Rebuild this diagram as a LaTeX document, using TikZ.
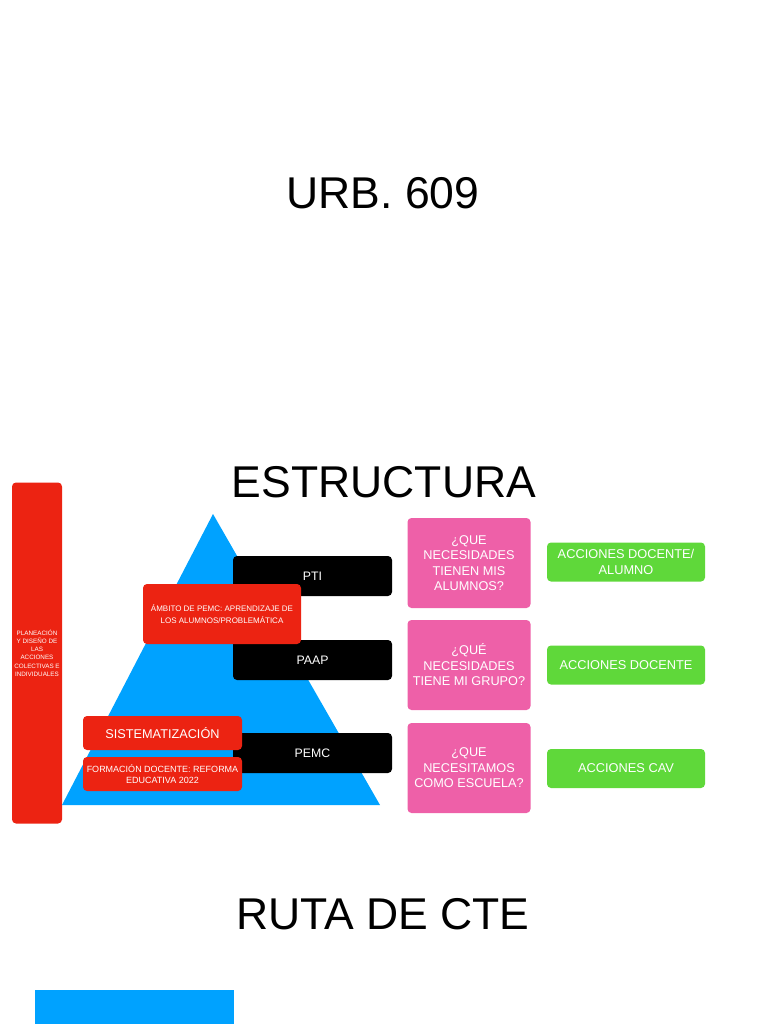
\documentclass[tikz,border=0pt]{standalone}
\usepackage{fontspec}
\setmainfont{Liberation Sans}
\definecolor{cred}{HTML}{EC2312}
\definecolor{cblue}{HTML}{00A2FF}
\definecolor{cpink}{HTML}{EE60A8}
\definecolor{cgreen}{HTML}{5FD83A}
\tikzset{
  box/.style={rounded corners=4pt, inner sep=0pt, align=center, text=white},
  blk/.style={box, fill=black, minimum width=159pt, minimum height=40pt, font=\fontsize{12.3}{15}\selectfont},
  pnk/.style={box, fill=cpink, minimum width=123pt, minimum height=90pt, font=\fontsize{12.7}{15.5}\selectfont},
  grn/.style={box, fill=cgreen, minimum width=158pt, minimum height=39pt, font=\fontsize{12.8}{15.5}\selectfont},
  redb/.style={box, fill=cred},
  ttl/.style={inner sep=0pt, font=\fontsize{44.5}{50}\selectfont}
}
\begin{document}
\begin{tikzpicture}[x=1pt,y=-1pt]
\useasboundingbox (0,0) rectangle (768,1024);
\node[ttl] (urb) at (383,193) {URB. 609};
\node[ttl] (estr) at (384,482) {ESTRUCTURA};
\node[ttl] (ruta) at (383,914) {RUTA DE CTE};
% left tall box
\node[redb, minimum width=50pt, minimum height=341pt, font=\fontsize{6.3}{8.2}\selectfont] (plan) at (37,653)
  {PLANEACIÓN\\Y DISEÑO DE\\LAS\\ACCIONES\\COLECTIVAS E\\INDIVIDUALES};
% pyramid
\fill[cblue] (213,514) -- (380,805) -- (62,805) -- cycle;
% black boxes
\node[blk] (pti) at (312.5,576) {PTI};
\node[blk] (paap) at (312.5,660) {PAAP};
\node[blk] (pemc) at (312.5,753) {PEMC};
% red boxes on pyramid
\node[redb, minimum width=158pt, minimum height=60pt, font=\fontsize{8}{11.5}\selectfont] (amb) at (222,614)
  {ÁMBITO DE PEMC: APRENDIZAJE DE\\LOS ALUMNOS/PROBLEMÁTICA};
\node[redb, minimum width=159pt, minimum height=34pt, font=\fontsize{12.7}{15}\selectfont] (sis) at (162.5,733)
  {SISTEMATIZACIÓN};
\node[redb, minimum width=159pt, minimum height=34pt, font=\fontsize{9}{11.5}\selectfont] (form) at (162.5,774)
  {FORMACIÓN DOCENTE: REFORMA\\EDUCATIVA 2022};
% pink boxes
\node[pnk] (q1) at (469,563) {¿QUE\\NECESIDADES\\TIENEN MIS\\ALUMNOS?};
\node[pnk] (q2) at (469,665) {¿QUÉ\\NECESIDADES\\TIENE MI GRUPO?};
\node[pnk] (q3) at (469,768) {¿QUE\\NECESITAMOS\\COMO ESCUELA?};
% green boxes
\node[grn] (a1) at (626,562) {ACCIONES DOCENTE/\\ALUMNO};
\node[grn] (a2) at (626,665) {ACCIONES DOCENTE};
\node[grn] (a3) at (626,768.5) {ACCIONES CAV};
% bottom blue bar
\fill[cblue] (35,990) rectangle (234,1024);
\end{tikzpicture}
\end{document}
